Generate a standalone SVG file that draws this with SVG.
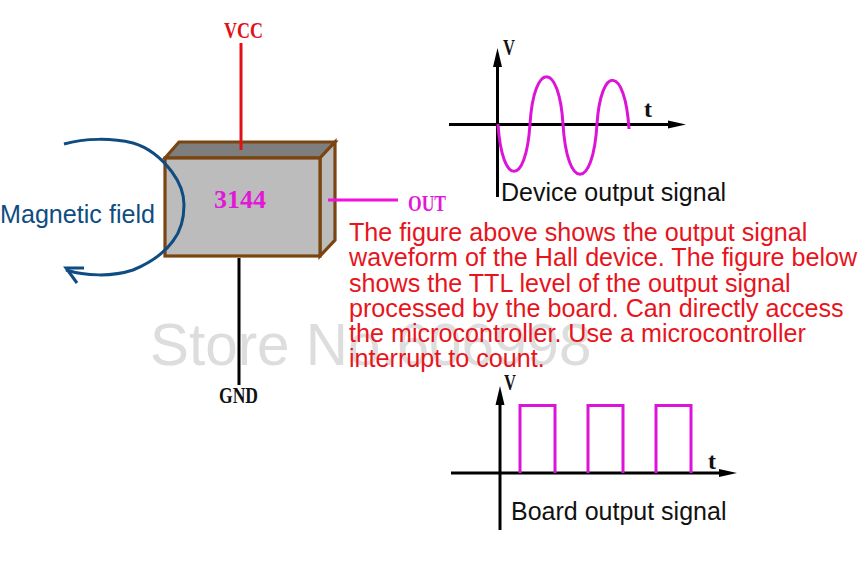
<svg xmlns="http://www.w3.org/2000/svg" width="859" height="566" viewBox="0 0 859 566">
<style>
.s{font-family:"Liberation Serif",serif;font-weight:bold}
.a{font-family:"Liberation Sans",Arial,sans-serif}
.r{font-size:25.15px;fill:#e8141c}
.k{font-size:25px;fill:#111}
.ax{stroke:#000;stroke-width:3;fill:none}
.sig{stroke:#dc14d8;stroke-width:3;fill:none}
.box{stroke:#7a4510;stroke-width:3.2;stroke-linejoin:miter}
</style>
<rect width="859" height="566" fill="#fff"/>
<text id="watermark" class="a" x="150" y="364.500" font-size="58.4" fill="#dddddd">Store No.606998</text>
<g id="chip">
<polygon class="box" points="165,158 179,142 335,142 320,158" fill="#7e7e7e"/>
<polygon class="box" points="320,158 335,142 335,240 320,256" fill="#bcbcbc"/>
<rect class="box" x="165" y="158" width="155" height="98" fill="#bcbcbc"/>
<text class="s" x="240" y="208" font-size="25" text-anchor="middle" fill="#e018d8" textLength="52" lengthAdjust="spacingAndGlyphs">3144</text>
</g>
<g id="connectors">
<line x1="241" y1="43" x2="241" y2="150" stroke="#e01018" stroke-width="3"/>
<line x1="328" y1="200" x2="398" y2="200" stroke="#f010e0" stroke-width="3"/>
<line x1="239" y1="258" x2="239" y2="385" stroke="#000" stroke-width="3"/>
<path d="M64 144C85 138 112 138 133 143C150 148 163 160 172 172C181 184 184 195 184 205C184 220 180 232 173 241C165 252 150 263 133 270C112 277 85 276 66 270" fill="none" stroke="#0f4c81" stroke-width="3"/>
<path d="M84 268L66 268L77 283" fill="none" stroke="#0f4c81" stroke-width="3"/>
</g>
<g id="vcc"><text class="s" x="243.500" y="38" font-size="24" text-anchor="middle" fill="#e01018" textLength="39" lengthAdjust="spacingAndGlyphs">VCC</text></g>
<g id="out"><text class="s" x="427" y="211" font-size="24" text-anchor="middle" fill="#e018d8" textLength="38" lengthAdjust="spacingAndGlyphs">OUT</text></g>
<g id="gnd"><text class="s" x="238.500" y="403" font-size="24" text-anchor="middle" fill="#111" textLength="39" lengthAdjust="spacingAndGlyphs">GND</text></g>
<g id="magnetic"><text class="a" x="0" y="223" font-size="25" fill="#0f4c81" textLength="155" lengthAdjust="spacingAndGlyphs">Magnetic field</text></g>
<g id="desc" class="a r">
<text x="349" y="241">The figure above shows the output signal</text>
<text x="349" y="266">waveform of the Hall device. The figure below</text>
<text x="349" y="292">shows the TTL level of the output signal</text>
<text x="349" y="317">processed by the board. Can directly access</text>
<text x="349" y="342">the microcontroller. Use a microcontroller</text>
<text x="349" y="367">interrupt to count.</text>
</g>
<g id="device-graph">
<line class="ax" x1="497.500" y1="60" x2="497.500" y2="197"/>
<polygon points="497.500,48 493,67 502,67"/>
<line class="ax" x1="449" y1="124.500" x2="672" y2="124.500"/>
<polygon points="686,124.500 668,120.500 668,128.500"/>
<text class="s" x="509" y="55" font-size="24" text-anchor="middle" fill="#111" textLength="12" lengthAdjust="spacingAndGlyphs">V</text>
<text class="s" x="648" y="117" font-size="24" text-anchor="middle" fill="#111">t</text>
<path class="sig" d="M498 124C502 187 526 187 530 124C534 61 559 61 563 124C567 191 593 191 597 124C601 65 625 65 629 129"/>
<text class="a k" x="501" y="200.500">Device output signal</text>
</g>
<g id="board-graph">
<line class="ax" x1="500" y1="400" x2="500" y2="530"/>
<polygon points="500,386 495.500,405 504.500,405"/>
<line class="ax" x1="451" y1="473" x2="725" y2="473"/>
<polygon points="737,473 719,469 719,477"/>
<text class="s" x="510" y="390" font-size="24" text-anchor="middle" fill="#111" textLength="12" lengthAdjust="spacingAndGlyphs">V</text>
<text class="s" x="712" y="469" font-size="24" text-anchor="middle" fill="#111">t</text>
<path class="sig" d="M520 473V405.500H555V473M588 473V405.500H623V473M656 473V405.500H691V473"/>
<text class="a k" x="511" y="519.500">Board output signal</text>
</g>
</svg>
